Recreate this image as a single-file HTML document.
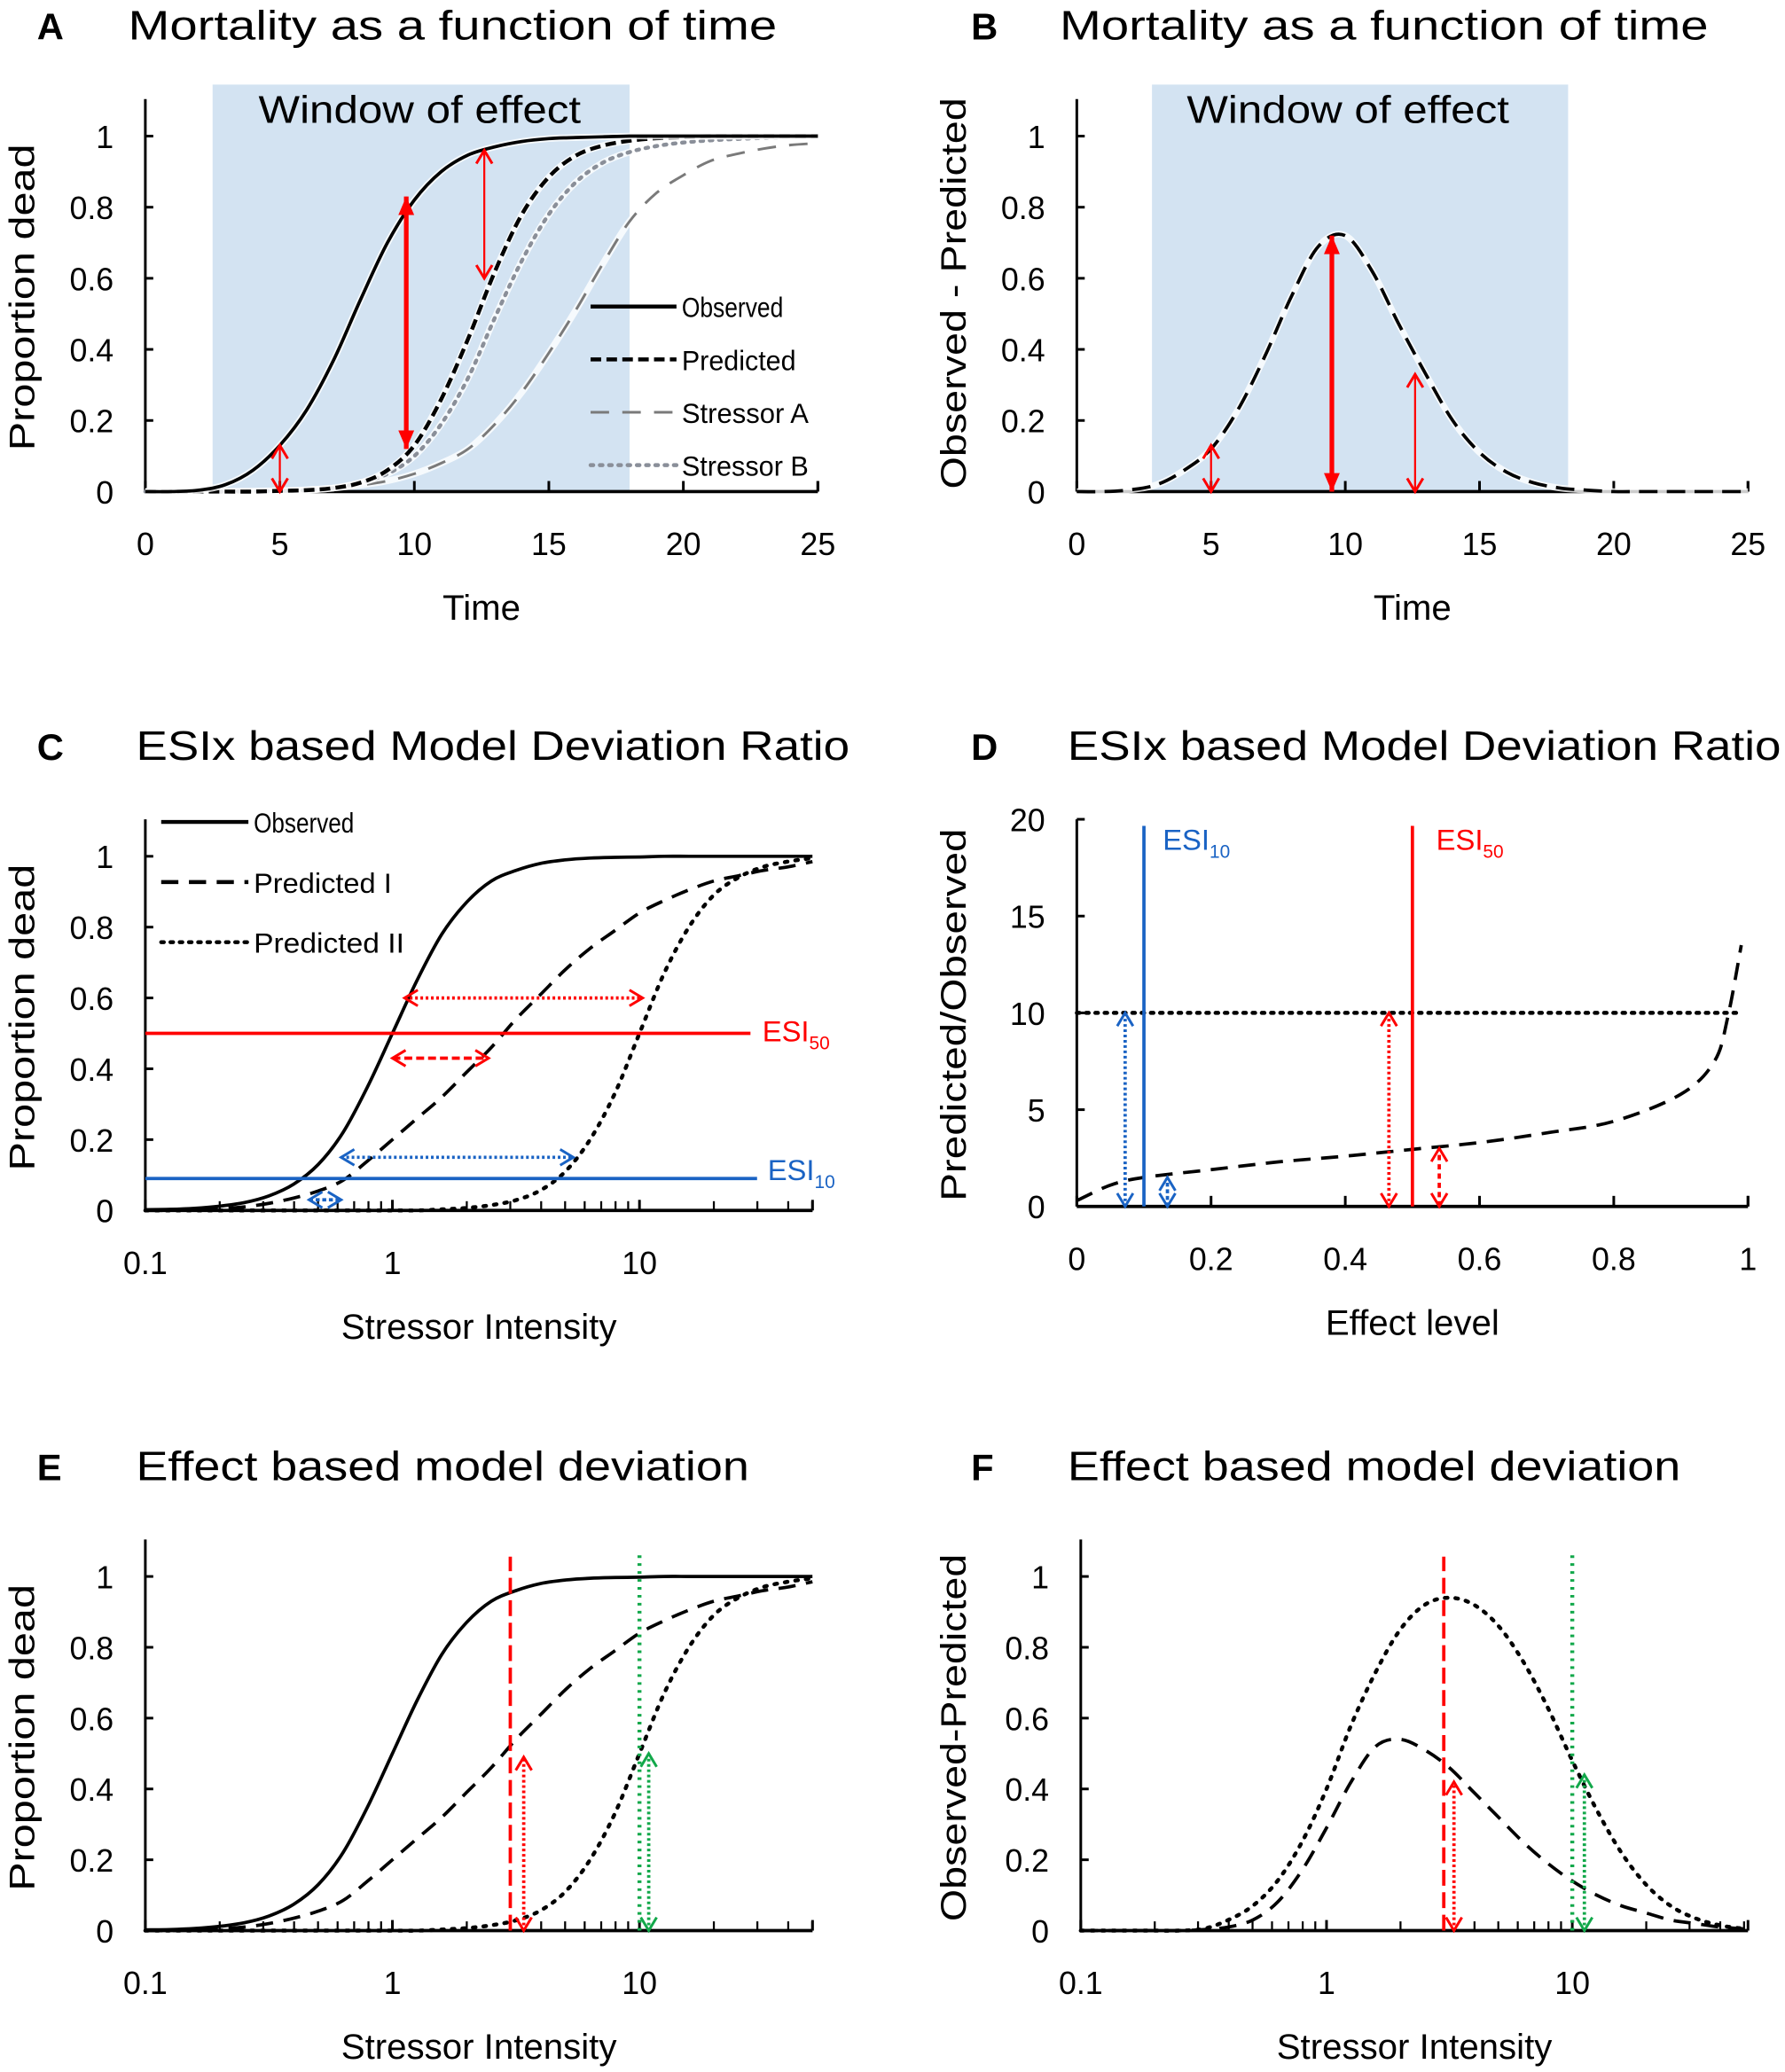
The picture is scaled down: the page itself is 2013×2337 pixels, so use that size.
<!DOCTYPE html>
<html><head><meta charset="utf-8">
<style>
html,body{margin:0;padding:0;background:#fff;}
svg{display:block;font-family:"Liberation Sans",sans-serif;}
</style></head>
<body>
<svg id="fig" width="2013" height="2337" viewBox="0 0 1351 1568" preserveAspectRatio="none" xmlns="http://www.w3.org/2000/svg">
</svg>
<script>
// ---------- DATA ----------
const timeX = [0,1,2,3,4,5,6,7,8,9,10,11,12,13,14,15,16,17,18,19,20,21,22,23,24,25];
const aObserved = [0,0,0.004,0.02,0.06,0.13,0.23,0.37,0.54,0.70,0.82,0.90,0.947,0.97,0.985,0.993,0.996,0.998,1,1,1,1,1,1,1,1];
const aPredicted = [0,0,0,0,0,0.002,0.004,0.01,0.025,0.06,0.13,0.26,0.43,0.62,0.78,0.885,0.945,0.973,0.987,0.994,0.997,1,1,1,1,1];
const aStressorA = [0,0,0,0,0.001,0.002,0.005,0.01,0.018,0.03,0.05,0.08,0.12,0.19,0.28,0.39,0.51,0.64,0.76,0.84,0.89,0.93,0.95,0.965,0.975,0.98];
const aStressorB = [0,0,0,0,0.001,0.002,0.004,0.01,0.025,0.05,0.10,0.19,0.32,0.49,0.65,0.78,0.87,0.925,0.955,0.972,0.982,0.988,0.992,0.995,0.997,0.998];
const bDiff = [0,0,0.005,0.02,0.06,0.12,0.23,0.38,0.55,0.69,0.72,0.62,0.47,0.33,0.2,0.11,0.055,0.025,0.01,0.004,0,0,0,0,0,0];
const logX = [-1,-0.9,-0.8,-0.7,-0.6,-0.5,-0.4,-0.3,-0.2,-0.1,0,0.1,0.2,0.3,0.4,0.5,0.6,0.7,0.8,0.9,1,1.1,1.2,1.3,1.4,1.5,1.6,1.7];
const cObserved = [0.002,0.003,0.006,0.012,0.022,0.041,0.074,0.13,0.22,0.35,0.5,0.65,0.78,0.87,0.93,0.96,0.98,0.99,0.995,0.997,0.998,1,1,1,1,1,1,1];
const cPredI = [0,0,0.002,0.005,0.01,0.02,0.035,0.055,0.085,0.14,0.2,0.26,0.32,0.39,0.46,0.54,0.61,0.68,0.74,0.79,0.84,0.875,0.905,0.93,0.945,0.96,0.97,0.985];
const cPredII = [0,0,0,0,0,0,0,0,0,0,0,0,0.003,0.007,0.015,0.029,0.057,0.11,0.2,0.33,0.5,0.67,0.8,0.89,0.94,0.97,0.985,0.995];
const fDotted = [0,0,0,0,0,0.005,0.03,0.07,0.14,0.25,0.4,0.58,0.73,0.85,0.92,0.94,0.92,0.86,0.76,0.63,0.48,0.34,0.22,0.13,0.07,0.035,0.015,0.005];
const fDashed = [0,0,0,0,0,0.003,0.01,0.03,0.08,0.17,0.29,0.42,0.52,0.54,0.51,0.46,0.39,0.32,0.25,0.19,0.14,0.1,0.07,0.05,0.03,0.02,0.01,0.005];
const dEffect = [0,0.05,0.1,0.2,0.3,0.4,0.5,0.6,0.7,0.8,0.9,0.95,0.97,0.99];
const dRatio = [0.3,1.1,1.5,1.9,2.3,2.6,2.95,3.3,3.8,4.4,5.8,7.5,9.8,13.5];
const propTicks = [0,0.2,0.4,0.6,0.8,1];
const propLabels = ["0","0.2","0.4","0.6","0.8","1"];
const timeTicks = [0,5,10,15,20,25];
const logTicks = [0.1,1,10];
const logLabels = ["0.1","1","10"];
const ratioTicks = [0,5,10,15,20];
const effTicks = [0,0.2,0.4,0.6,0.8,1];
const effLabels = ["0","0.2","0.4","0.6","0.8","1"];

// ---------- HELPERS ----------
const NS="http://www.w3.org/2000/svg";
const svg=document.getElementById('fig');
function el(tag,attrs,parent){const e=document.createElementNS(NS,tag);for(const k in attrs)e.setAttribute(k,attrs[k]);(parent||svg).appendChild(e);return e;}
function txt(s,x,y,attrs,parent){const t=el('text',Object.assign({x:x,y:y},attrs),parent);t.textContent=s;return t;}
function esi(g,x,y,sub,color,name){const t=el('text',{x:x,y:y,'font-size':22,fill:color},g);
 
 
 const a=el('tspan',{},t);a.textContent='ESI';
 const b=el('tspan',{dy:6,'font-size':14},t);b.textContent=sub;}
function spline(pts){let d='M'+pts[0][0].toFixed(2)+','+pts[0][1].toFixed(2);
 for(let i=0;i<pts.length-1;i++){const p0=pts[i-1]||pts[i],p1=pts[i],p2=pts[i+1],p3=pts[i+2]||p2;
  const c1=[p1[0]+(p2[0]-p0[0])/6,p1[1]+(p2[1]-p0[1])/6],c2=[p2[0]-(p3[0]-p1[0])/6,p2[1]-(p3[1]-p1[1])/6];
  d+=' C'+c1[0].toFixed(2)+','+c1[1].toFixed(2)+' '+c2[0].toFixed(2)+','+c2[1].toFixed(2)+' '+p2[0].toFixed(2)+','+p2[1].toFixed(2);}
 return d;}
function makeScale(p0,p1,v0,v1,log){return v=>{const a=log?Math.log10(v):v,b0=log?Math.log10(v0):v0,b1=log?Math.log10(v1):v1;return p0+(a-b0)/(b1-b0)*(p1-p0);};}
function curve(g,xs,ys,sx,sy,style,name,halo){
 const pts=xs.map((x,i)=>[sx(x),sy(ys[i])]);
 const d=spline(pts);
 if(halo){const h=el('path',{d:d,fill:'none',stroke:'#fff','stroke-width':5,opacity:0.8},g);
 
 }
 const p=el('path',Object.assign({d:d,fill:'none'},style),g);
 
 
 return p;}
function arrow(g,x1,y1,x2,y2,color,w,dash,name,filled){
 const grp=el('g',{},g);
 
 
 const a={x1:x1,y1:y1,x2:x2,y2:y2,stroke:color,'stroke-width':w};if(dash)a['stroke-dasharray']=dash;
 el('line',a,grp);
 const L=filled?14:10,W=6;
 [[x1,y1,x2,y2],[x2,y2,x1,y1]].forEach(([ax,ay,bx,by])=>{const dx=ax-bx,dy=ay-by,len=Math.hypot(dx,dy),ux=dx/len,uy=dy/len;
  const p1=[ax-ux*L-uy*W,ay-uy*L+ux*W],p2=[ax-ux*L+uy*W,ay-uy*L-ux*W];
  if(filled)el('polygon',{points:`${ax},${ay} ${p1} ${p2}`,fill:color},grp);
  else el('polyline',{points:`${p1} ${ax},${ay} ${p2}`,fill:'none',stroke:color,'stroke-width':2},grp);});
}
function axes(g,o){
 const ya=el('line',{x1:o.xl,y1:o.yb,x2:o.xl,y2:o.yt,stroke:'#000','stroke-width':2},g);
 
 const xa=el('line',{x1:o.xl,y1:o.yb,x2:o.xr,y2:o.yb,stroke:'#000','stroke-width':2.5},g);
 
 o.yTicks.forEach((v,i)=>{const y=o.sy(v);el('line',{x1:o.xl,y1:y,x2:o.xl+6,y2:y,stroke:'#000','stroke-width':2},g);
  const t=txt(o.yLabels[i],o.xl-24,y+9,{'font-size':24,'text-anchor':'end'},g);
  });
 o.xTicks.forEach((v,i)=>{const x=o.sx(v);el('line',{x1:x,y1:o.yb,x2:x,y2:o.yb-8,stroke:'#000','stroke-width':2},g);
  const t=txt(o.xLabels[i],x,o.yb+48,{'font-size':24,'text-anchor':'middle'},g);
  });
 if(o.minor)o.minor.forEach(v=>{const x=o.sx(v);el('line',{x1:x,y1:o.yb,x2:x,y2:o.yb-7,stroke:'#000','stroke-width':1.5},g);});
 el('line',{x1:o.xr,y1:o.yb,x2:o.xr,y2:o.yb-8,stroke:'#000','stroke-width':2},g);
 const xt=txt(o.xTitle,(o.xl+o.xr)/2,o.yb+97,{'font-size':27,'text-anchor':'middle'},g);
 
 const yt=txt(o.yTitle,0,0,{'font-size':27,'text-anchor':'middle',transform:`translate(${o.yTitleX},${o.yTitleC}) rotate(-90)`,textLength:o.yTitleLen,lengthAdjust:'spacingAndGlyphs'},g);
 
 const pl=txt(o.letter,o.lx,o.ty,{'font-size':28,'font-weight':'bold'},g);
 
 const tt=txt(o.title,o.tx,o.ty,{'font-size':31,textLength:o.tlen,lengthAdjust:'spacingAndGlyphs'},g);
 
}
function minorLog(){const m=[];for(let d=0.1;d<50;d*=10)for(let k=2;k<=9;k++){const v=d*k;if(v<=50)m.push(v);}return m;}
function panel(name){const g=el('g',{});return g;}

// ---------- PANEL A ----------
(function(){const g=panel('panel-a');
 const sx=makeScale(110,619,0,25),sy=makeScale(372,103,0,1);
 const sh=el('rect',{x:sx(2.5),y:64,width:sx(18)-sx(2.5),height:372-64,fill:'#d3e3f2'},g);
 
 const wt=txt('Window of effect',sx(10.2),93,{'font-size':29,'text-anchor':'middle',textLength:244,lengthAdjust:'spacingAndGlyphs'},g);
 
 axes(g,{xl:110,xr:619,yb:372,yt:75,sx:sx,sy:sy,yTicks:propTicks,yLabels:propLabels,xTicks:timeTicks,xLabels:timeTicks.map(String),xTitle:'Time',yTitle:'Proportion dead',yTitleX:26,yTitleC:225,yTitleLen:232,letter:'A',lx:28,ty:30,title:'Mortality as a function of time',tx:97,tlen:491});
 curve(g,timeX,aStressorA,sx,sy,{stroke:'#7a7a7a','stroke-width':2,'stroke-dasharray':'14,10'},'stressor-a-line',true);
 curve(g,timeX,aStressorB,sx,sy,{stroke:'#8a8f99','stroke-width':3,'stroke-dasharray':'2,5','stroke-linecap':'round'},'stressor-b-line',true);
 curve(g,timeX,aPredicted,sx,sy,{stroke:'#000','stroke-width':3,'stroke-dasharray':'8,4'},'predicted-line',true);
 curve(g,timeX,aObserved,sx,sy,{stroke:'#000','stroke-width':2.5},'observed-line',true);
 arrow(g,sx(5),sy(0),sx(5),sy(0.13),'#f00',1.5,null,'arrow-t5');
 arrow(g,sx(9.7),sy(0.12),sx(9.7),sy(0.83),'#f00',3.5,null,'arrow-t10',true);
 arrow(g,sx(12.6),sy(0.6),sx(12.6),sy(0.96),'#f00',1.5,null,'arrow-t12');
 const leg=[['Observed',{stroke:'#000','stroke-width':3}],['Predicted',{stroke:'#000','stroke-width':3,'stroke-dasharray':'8,4'}],['Stressor A',{stroke:'#7a7a7a','stroke-width':2,'stroke-dasharray':'14,10'}],['Stressor B',{stroke:'#8a8f99','stroke-width':3,'stroke-dasharray':'2,5','stroke-linecap':'round'}]];
 leg.forEach((l,i)=>{const y=232+i*40;const lg=el('g',{},g);
  
  el('line',Object.assign({x1:447,y1:y,x2:512,y2:y},l[1]),lg);
  txt(l[0],516,y+8,{'font-size':21,textLength:l[0].length*9.6,lengthAdjust:'spacingAndGlyphs'},lg);});
})();

// ---------- PANEL B ----------
(function(){const g=panel('panel-b');
 const sx=makeScale(815,1323,0,25),sy=makeScale(372,103,0,1);
 const sh=el('rect',{x:sx(2.8),y:64,width:sx(18.3)-sx(2.8),height:372-64,fill:'#d3e3f2'},g);
 
 const wt=txt('Window of effect',sx(10.1),93,{'font-size':29,'text-anchor':'middle',textLength:244,lengthAdjust:'spacingAndGlyphs'},g);
 
 axes(g,{xl:815,xr:1323,yb:372,yt:75,sx:sx,sy:sy,yTicks:propTicks,yLabels:propLabels,xTicks:timeTicks,xLabels:timeTicks.map(String),xTitle:'Time',yTitle:'Observed - Predicted',yTitleX:731,yTitleC:222,yTitleLen:296,letter:'B',lx:735,ty:30,title:'Mortality as a function of time',tx:802,tlen:491});
 curve(g,timeX,bDiff,sx,sy,{stroke:'#000','stroke-width':2.5,'stroke-dasharray':'14,7'},'observed-minus-predicted-line',true);
 arrow(g,sx(5),sy(0),sx(5),sy(0.13),'#f00',1.5,null,'arrow-t5');
 arrow(g,sx(9.5),sy(0),sx(9.5),sy(0.72),'#f00',3.5,null,'arrow-t10',true);
 arrow(g,sx(12.6),sy(0),sx(12.6),sy(0.33),'#f00',1.5,null,'arrow-t12');
})();

// ---------- PANEL C ----------
(function(){const g=panel('panel-c');
 const sxl=makeScale(110,110+187*2.699,-1,1.699),sx=v=>sxl(Math.log10(v)),sy=makeScale(916,648,0,1);
 axes(g,{xl:110,xr:615,yb:916,yt:620,sx:sx,sy:sy,yTicks:propTicks,yLabels:propLabels,xTicks:logTicks,xLabels:logLabels,minor:minorLog(),xTitle:'Stressor Intensity',yTitle:'Proportion dead',yTitleX:26,yTitleC:770,yTitleLen:232,letter:'C',lx:28,ty:575,title:'ESIx based Model Deviation Ratio',tx:103,tlen:540});
 curve(g,logX,cPredI,sxl,sy,{stroke:'#000','stroke-width':2.5,'stroke-dasharray':'13,8'},'predicted-i-line');
 curve(g,logX,cPredII,sxl,sy,{stroke:'#000','stroke-width':3,'stroke-dasharray':'2,6','stroke-linecap':'round'},'predicted-ii-line');
 curve(g,logX,cObserved,sxl,sy,{stroke:'#000','stroke-width':2.5},'observed-line');
 const r=el('line',{x1:110,y1:sy(0.5),x2:568,y2:sy(0.5),stroke:'#f00','stroke-width':2.5},g);
 
 const b=el('line',{x1:110,y1:sy(0.09),x2:573,y2:sy(0.09),stroke:'#1a63c4','stroke-width':2.5},g);
 
 esi(g,577,788,'50','#f00','esi50-label');
 esi(g,581,893,'10','#1a63c4','esi10-label');
 arrow(g,sx(1.12),sy(0.6),sx(10.3),sy(0.6),'#f00',2.5,'2,2','arrow-esi50-pred-ii');
 arrow(g,sx(1.0),sy(0.43),sx(2.45),sy(0.43),'#f00',2.5,'6,3','arrow-esi50-pred-i');
 arrow(g,sx(0.62),sy(0.15),sx(5.4),sy(0.15),'#1a63c4',2.5,'2,2','arrow-esi10-pred-ii');
 arrow(g,sx(0.46),sy(0.03),sx(0.62),sy(0.03),'#1a63c4',2.5,'3,2','arrow-esi10-pred-i');
 const leg=[['Observed',{stroke:'#000','stroke-width':3}],['Predicted I',{stroke:'#000','stroke-width':3,'stroke-dasharray':'13,8'}],['Predicted II',{stroke:'#000','stroke-width':3,'stroke-dasharray':'2,5','stroke-linecap':'round'}]];
 leg.forEach((l,i)=>{const y=622+i*45.5;const lg=el('g',{},g);
  
  el('line',Object.assign({x1:122,y1:y,x2:188,y2:y},l[1]),lg);
  txt(l[0],192,y+8,{'font-size':21,textLength:l[0].length*9.5,lengthAdjust:'spacingAndGlyphs'},lg);});
})();

// ---------- PANEL D ----------
(function(){const g=panel('panel-d');
 const sx=makeScale(815,1323,0,1),sy=makeScale(913,620,0,20);
 axes(g,{xl:815,xr:1323,yb:913,yt:620,sx:sx,sy:sy,yTicks:ratioTicks,yLabels:ratioTicks.map(String),xTicks:effTicks,xLabels:effLabels,xTitle:'Effect level',yTitle:'Predicted/Observed',yTitleX:731,yTitleC:768,yTitleLen:282,letter:'D',lx:735,ty:575,title:'ESIx based Model Deviation Ratio',tx:808,tlen:540});
 const hz=el('line',{x1:sx(0),y1:sy(10),x2:sx(0.985),y2:sy(10),stroke:'#000','stroke-width':3,'stroke-dasharray':'2,5','stroke-linecap':'round'},g);
 
 curve(g,dEffect,dRatio,sx,sy,{stroke:'#000','stroke-width':2.5,'stroke-dasharray':'13,8'},'predicted-i-ratio-line');
 const bl=el('line',{x1:sx(0.1),y1:sy(0),x2:sx(0.1),y2:625,stroke:'#1a63c4','stroke-width':2.5},g);
 
 const rl=el('line',{x1:sx(0.5),y1:sy(0),x2:sx(0.5),y2:625,stroke:'#f00','stroke-width':2.5},g);
 
 esi(g,880,643,'10','#1a63c4','esi10-label');
 esi(g,1087,643,'50','#f00','esi50-label');
 arrow(g,sx(0.072),sy(0),sx(0.072),sy(10),'#1a63c4',2.5,'2,2','arrow-esi10-ii');
 arrow(g,sx(0.135),sy(0),sx(0.135),sy(1.5),'#1a63c4',2.5,'3,2','arrow-esi10-i');
 arrow(g,sx(0.465),sy(0),sx(0.465),sy(10),'#f00',2.5,'2,2','arrow-esi50-ii');
 arrow(g,sx(0.54),sy(0),sx(0.54),sy(3),'#f00',2.5,'4,3','arrow-esi50-i');
})();

// ---------- PANEL E ----------
(function(){const g=panel('panel-e');
 const sxl=makeScale(110,110+187*2.699,-1,1.699),sx=v=>sxl(Math.log10(v)),sy=makeScale(1461,1193,0,1);
 axes(g,{xl:110,xr:615,yb:1461,yt:1165,sx:sx,sy:sy,yTicks:propTicks,yLabels:propLabels,xTicks:logTicks,xLabels:logLabels,minor:minorLog(),xTitle:'Stressor Intensity',yTitle:'Proportion dead',yTitleX:26,yTitleC:1315,yTitleLen:232,letter:'E',lx:28,ty:1120,title:'Effect based model deviation',tx:103,tlen:464});
 curve(g,logX,cPredI,sxl,sy,{stroke:'#000','stroke-width':2.5,'stroke-dasharray':'13,8'},'predicted-i-line');
 curve(g,logX,cPredII,sxl,sy,{stroke:'#000','stroke-width':3,'stroke-dasharray':'2,6','stroke-linecap':'round'},'predicted-ii-line');
 curve(g,logX,cObserved,sxl,sy,{stroke:'#000','stroke-width':2.5},'observed-line');
 const rv=el('line',{x1:sx(3),y1:sy(0),x2:sx(3),y2:1178,stroke:'#f00','stroke-width':2.5,'stroke-dasharray':'12,5'},g);
 
 const gv=el('line',{x1:sx(10),y1:sy(0),x2:sx(10),y2:1176,stroke:'#12a84a','stroke-width':3,'stroke-dasharray':'2,4'},g);
 
 arrow(g,sx(3.4),sy(0),sx(3.4),sy(0.49),'#f00',2.5,'2,2','arrow-red-effect');
 arrow(g,sx(10.9),sy(0),sx(10.9),sy(0.5),'#12a84a',2.5,'2,2','arrow-green-effect');
})();

// ---------- PANEL F ----------
(function(){const g=panel('panel-f');
 const sxl=makeScale(818,818+186*2.699,-1,1.699),sx=v=>sxl(Math.log10(v)),sy=makeScale(1461,1193,0,1);
 axes(g,{xl:818,xr:1323,yb:1461,yt:1165,sx:sx,sy:sy,yTicks:propTicks,yLabels:propLabels,xTicks:logTicks,xLabels:logLabels,minor:minorLog(),xTitle:'Stressor Intensity',yTitle:'Observed-Predicted',yTitleX:731,yTitleC:1315,yTitleLen:278,letter:'F',lx:735,ty:1120,title:'Effect based model deviation',tx:808,tlen:464});
 curve(g,logX,fDotted,sxl,sy,{stroke:'#000','stroke-width':3,'stroke-dasharray':'2,6','stroke-linecap':'round'},'obs-minus-pred-ii-line');
 curve(g,logX,fDashed,sxl,sy,{stroke:'#000','stroke-width':2.5,'stroke-dasharray':'13,8'},'obs-minus-pred-i-line');
 const rv=el('line',{x1:sx(3),y1:sy(0),x2:sx(3),y2:1178,stroke:'#f00','stroke-width':2.5,'stroke-dasharray':'12,5'},g);
 
 const gv=el('line',{x1:sx(10),y1:sy(0),x2:sx(10),y2:1176,stroke:'#12a84a','stroke-width':3,'stroke-dasharray':'2,4'},g);
 
 arrow(g,sx(3.3),sy(0),sx(3.3),sy(0.42),'#f00',2.5,'2,2','arrow-red-effect');
 arrow(g,sx(11.2),sy(0),sx(11.2),sy(0.44),'#12a84a',2.5,'2,2','arrow-green-effect');
})();
</script>
</body></html>
